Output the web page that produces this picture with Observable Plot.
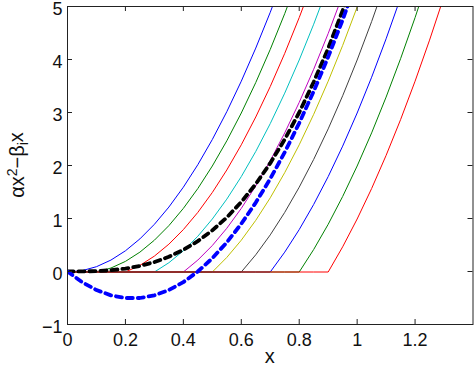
<!DOCTYPE html>
<html>
<head>
<meta charset="utf-8">
<script src="https://cdn.jsdelivr.net/npm/d3@7"></script>
<script src="https://cdn.jsdelivr.net/npm/@observablehq/plot@0.6"></script>
<style>
  html, body { margin: 0; padding: 0; background: #fff; }
  #chart svg { display: block; }
</style>
</head>
<body>
<div id="chart"></div>
<script>
// Sample positions along x (shared by every series)
const xs = [0, 0.05, 0.1, 0.15, 0.2, 0.25, 0.3, 0.35, 0.4, 0.45, 0.5, 0.55, 0.6, 0.65,
            0.7, 0.75, 0.8, 0.85, 0.9, 0.95, 1.0, 1.05, 1.1, 1.15, 1.2, 1.25, 1.3];

// Thin curves, one per beta_i
const curve1  = [0, 0.025, 0.1, 0.225, 0.4, 0.625, 0.9, 1.225, 1.6, 2.025, 2.5, 3.025, 3.6, 4.225, 4.9, 5.625];
const curve2  = [0, 0, 0, 0.075, 0.2, 0.375, 0.6, 0.875, 1.2, 1.575, 2.0, 2.475, 3.0, 3.575, 4.2, 4.875, 5.6];
const curve3  = [0, 0, 0, 0, 0, 0.125, 0.3, 0.525, 0.8, 1.125, 1.5, 1.925, 2.4, 2.925, 3.5, 4.125, 4.8, 5.525];
const curve4  = [0, 0, 0, 0, 0, 0, 0, 0.175, 0.4, 0.675, 1.0, 1.375, 1.8, 2.275, 2.8, 3.375, 4.0, 4.675, 5.4];
const curve5  = [0, 0, 0, 0, 0, 0, 0, 0, 0, 0.225, 0.5, 0.825, 1.2, 1.625, 2.1, 2.625, 3.2, 3.825, 4.5, 5.225];
const curve6  = [0, 0, 0, 0, 0, 0, 0, 0, 0, 0, 0, 0.275, 0.6, 0.975, 1.4, 1.875, 2.4, 2.975, 3.6, 4.275, 5.0, 5.775];
const curve7  = [0, 0, 0, 0, 0, 0, 0, 0, 0, 0, 0, 0, 0, 0.325, 0.7, 1.125, 1.6, 2.125, 2.7, 3.325, 4.0, 4.725, 5.5];
const curve8  = [0, 0, 0, 0, 0, 0, 0, 0, 0, 0, 0, 0, 0, 0, 0, 0.375, 0.8, 1.275, 1.8, 2.375, 3.0, 3.675, 4.4, 5.175];
const curve9  = [0, 0, 0, 0, 0, 0, 0, 0, 0, 0, 0, 0, 0, 0, 0, 0, 0, 0.425, 0.9, 1.425, 2.0, 2.625, 3.3, 4.025, 4.8, 5.625];
const curve10 = [0, 0, 0, 0, 0, 0, 0, 0, 0, 0, 0, 0, 0, 0, 0, 0, 0, 0, 0, 0.475, 1.0, 1.575, 2.2, 2.875, 3.6, 4.375, 5.2];

// Thick dashed curves
const dashedBlack = [0, 0.001, 0.008, 0.024, 0.055, 0.105, 0.178, 0.278, 0.408, 0.573, 0.776, 1.02,
                     1.311, 1.651, 2.044, 2.493, 3.0, 3.575, 4.21, 4.925, 5.71];
const dashedBlue  = [0, -0.2, -0.35, -0.45, -0.5, -0.5, -0.45, -0.35, -0.2, 0, 0.25, 0.55, 0.9,
                     1.3, 1.75, 2.25, 2.8, 3.4, 4.05, 4.75, 5.5];

const thinColors = ["#0000ff", "#008000", "#ff0000", "#00bfbf", "#bf00bf", "#bfbf00", "#404040",
                    "#0000ff", "#008000", "#ff0000"];

const xTicks = [0, 0.2, 0.4, 0.6, 0.8, 1, 1.2];
const yTicks = [-1, 0, 1, 2, 3, 4, 5];

const W = 474, H = 367;
const mL = 67, mR = 1.5, mT = 6, mB = 43;
const plotW = W - mL - mR, plotH = H - mT - mB;

const toRows = ys => ys.map((y, i) => ({x: xs[i], y}));
const thin = [curve1, curve2, curve3, curve4, curve5, curve6, curve7, curve8, curve9, curve10];

const marks = [];
thin.forEach((ys, i) => {
  marks.push(Plot.line(toRows(ys), {x: "x", y: "y", stroke: thinColors[i], strokeWidth: 1,
                                    curve: "linear", clip: true, dy: 0.5}));
});
marks.push(Plot.line(toRows(dashedBlack), {x: "x", y: "y", stroke: "#000", strokeWidth: 3.8,
                                           strokeDasharray: "6,5", curve: "linear", clip: true}));
marks.push(Plot.line(toRows(dashedBlue), {x: "x", y: "y", stroke: "#0000ff", strokeWidth: 3.8,
                                          strokeDasharray: "6,5", curve: "linear", clip: true}));

// inward ticks (bottom/top, left/right)
marks.push(Plot.ruleX(xTicks, {x: d => d, insetTop: plotH - 5, stroke: "#222"}));
marks.push(Plot.ruleX(xTicks, {x: d => d, insetBottom: plotH - 5, stroke: "#222"}));
marks.push(Plot.ruleY(yTicks, {y: d => d, insetRight: plotW - 5, stroke: "#222"}));
marks.push(Plot.ruleY(yTicks, {y: d => d, insetLeft: plotW - 5, stroke: "#222"}));
marks.push(Plot.frame({stroke: "#222", strokeWidth: 1}));
marks.push(Plot.axisX(xTicks, {tickSize: 0, tickPadding: 9, fontSize: 18, label: null,
                               tickFormat: d => String(d)}));
marks.push(Plot.axisY(yTicks, {tickSize: 0, tickPadding: 5, fontSize: 18, label: null, dy: 3,
                               tickFormat: d => d < 0 ? "\u2212" + Math.abs(d) : String(d)}));

const svg = Plot.plot({
  width: W, height: H,
  marginLeft: mL, marginRight: mR, marginTop: mT, marginBottom: mB,
  x: {domain: [0, 1.4]},
  y: {domain: [-1, 5]},
  style: {fontFamily: "'Liberation Sans', Arial, Helvetica, sans-serif", color: "#111", background: "#fff"},
  marks
});

// axis titles
const s = d3.select(svg);
s.append("text")
  .attr("x", mL + plotW / 2).attr("y", H - 4)
  .attr("text-anchor", "middle")
  .attr("font-size", 20)
  .attr("fill", "#111")
  .text("x");

const yl = s.append("text")
  .attr("transform", `translate(${24},${mT + plotH / 2}) rotate(-90)`)
  .attr("text-anchor", "middle")
  .attr("font-size", 20)
  .attr("fill", "#111");
yl.append("tspan").text("\u03b1x");
yl.append("tspan").attr("dy", "-0.5em").attr("font-size", "0.7em").text("2");
yl.append("tspan").attr("dy", "0.35em").text("\u2212\u03b2");
yl.append("tspan").attr("dy", "0.25em").attr("font-size", "0.7em").text("i");
yl.append("tspan").attr("dy", "-0.25em").text("x");

document.getElementById("chart").appendChild(svg);
</script>
</body>
</html>
